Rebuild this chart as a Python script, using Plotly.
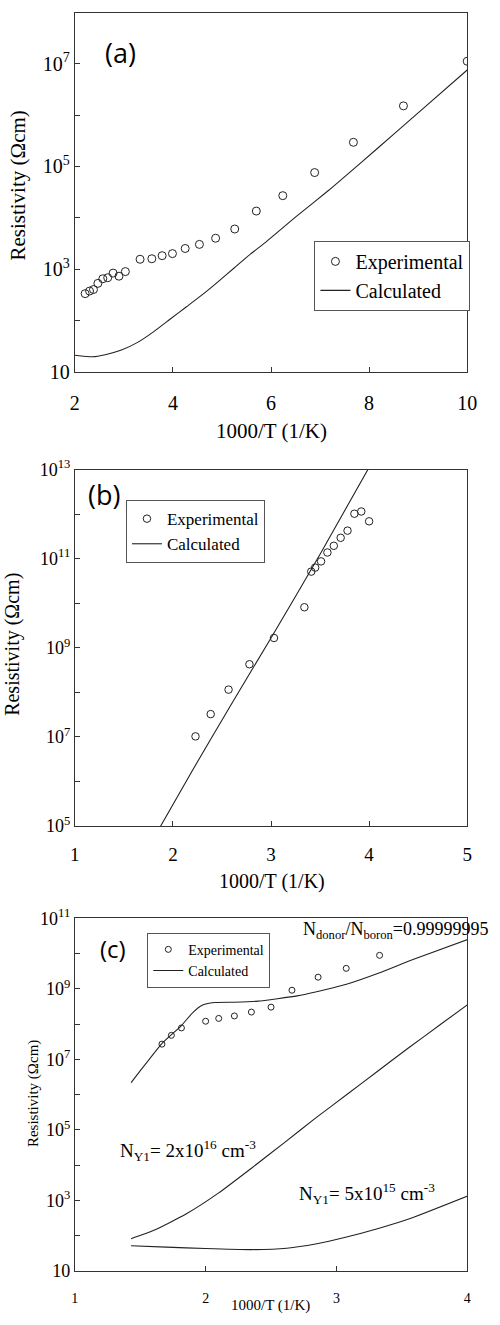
import numpy as np
import plotly.graph_objects as go

# (a) experimental / calculated, y stored as log10(resistivity)
a_exp_x = [2.21, 2.30, 2.38, 2.47, 2.57, 2.67, 2.78, 2.90, 3.03, 3.33, 3.57, 3.78,
           3.99, 4.25, 4.54, 4.87, 5.26, 5.70, 6.24, 6.89, 7.68, 8.70, 10.0]
a_exp_log = [2.52, 2.57, 2.60, 2.72, 2.81, 2.83, 2.92, 2.86, 2.95, 3.19, 3.20, 3.26,
             3.30, 3.40, 3.48, 3.60, 3.78, 4.13, 4.43, 4.88, 5.47, 6.18, 7.05]
a_calc_x = [2.0, 2.36, 2.62, 2.95, 3.28, 3.61, 3.94, 4.27, 4.60, 4.93, 5.26, 5.58, 5.91,
            6.51, 7.17, 7.83, 8.48, 9.14, 10.0]
a_calc_log = [1.32, 1.29, 1.33, 1.42, 1.57, 1.78, 2.02, 2.26, 2.50, 2.76, 3.03, 3.29, 3.54,
              4.02, 4.53, 5.07, 5.61, 6.16, 6.88]

# (b)
b_exp_x = [2.23, 2.385, 2.567, 2.78, 3.03, 3.34, 3.41, 3.45, 3.51, 3.575, 3.64, 3.71,
           3.78, 3.85, 3.92, 4.00]
b_exp_log = [7.01, 7.51, 8.06, 8.63, 9.22, 9.91, 10.71, 10.80, 10.94, 11.14, 11.29, 11.47,
             11.63, 12.01, 12.06, 11.84]
b_calc_x = [1.85, 2.2, 2.6, 3.0, 3.5, 4.01]
b_calc_log = [4.9, 6.25, 7.75, 9.22, 11.1, 13.09]

# (c)
c_exp_x = [1.666, 1.738, 1.815, 2.0, 2.10, 2.22, 2.35, 2.50, 2.66, 2.86, 3.075, 3.33]
c_exp_log = [7.43, 7.68, 7.89, 8.08, 8.16, 8.23, 8.34, 8.48, 8.96, 9.33, 9.58, 9.95]
c_top_x = [1.43, 1.489, 1.664, 1.813, 1.90, 1.97, 2.07, 2.22, 2.40, 2.55, 2.70, 2.84,
           3.07, 3.32, 3.57, 4.01]
c_top_log = [6.34, 6.62, 7.44, 7.95, 8.32, 8.53, 8.61, 8.62, 8.65, 8.72, 8.80, 8.91,
             9.12, 9.44, 9.81, 10.41]
c_mid_x = [1.43, 1.60, 1.85, 2.10, 2.35, 2.60, 2.84, 3.09, 3.30, 3.55, 3.80, 4.01]
c_mid_log = [1.91, 2.14, 2.61, 3.21, 3.91, 4.63, 5.33, 6.03, 6.62, 7.32, 8.0, 8.57]
c_bot_x = [1.43, 1.70, 2.0, 2.35, 2.62, 2.84, 3.07, 3.32, 3.57, 4.01]
c_bot_log = [1.71, 1.67, 1.63, 1.60, 1.64, 1.76, 1.95, 2.20, 2.49, 3.13]


def log_ticks(lo, hi):
    # labelled decades every other power, minor ticks on the rest
    major = [10 ** k for k in range(lo, hi + 1, 2)]
    labels = ['10' if k == 1 else '10<sup>%d</sup>' % k for k in range(lo, hi + 1, 2)]
    minor = [10 ** k for k in range(lo + 1, hi, 2)]
    return dict(tickvals=major, ticktext=labels,
                minor=dict(tickvals=minor, ticks='inside', ticklen=5, tickcolor='#333'))


SERIF = 'Liberation Serif'
SANS = 'Open Sans'
INK = '#222'


def f(size, family=SERIF):
    return dict(size=size, family=family, color='black')


fig = go.Figure()

mk = lambda s: dict(symbol='circle-open', size=s, color=INK, line=dict(width=1, color=INK))
ln = dict(color=INK, width=1.1, shape='spline', smoothing=0.5)

# panel a
fig.add_trace(go.Scatter(x=a_exp_x, y=10 ** np.array(a_exp_log), mode='markers',
                         marker=mk(8), name='Experimental', xaxis='x', yaxis='y', legend='legend'))
fig.add_trace(go.Scatter(x=a_calc_x, y=10 ** np.array(a_calc_log), mode='lines',
                         line=ln, name='Calculated', xaxis='x', yaxis='y', legend='legend'))
# panel b
fig.add_trace(go.Scatter(x=b_exp_x, y=10 ** np.array(b_exp_log), mode='markers',
                         marker=mk(7.5), name='Experimental', xaxis='x2', yaxis='y2', legend='legend2'))
fig.add_trace(go.Scatter(x=b_calc_x, y=10 ** np.array(b_calc_log), mode='lines',
                         line=ln, name='Calculated', xaxis='x2', yaxis='y2', legend='legend2'))
# panel c
fig.add_trace(go.Scatter(x=c_exp_x, y=10 ** np.array(c_exp_log), mode='markers',
                         marker=mk(6), name='Experimental', xaxis='x3', yaxis='y3', legend='legend3'))
fig.add_trace(go.Scatter(x=c_top_x, y=10 ** np.array(c_top_log), mode='lines',
                         line=ln, name='Calculated', xaxis='x3', yaxis='y3', legend='legend3'))
for xs, ys in [(c_mid_x, c_mid_log), (c_bot_x, c_bot_log)]:
    fig.add_trace(go.Scatter(x=xs, y=10 ** np.array(ys), mode='lines', line=ln,
                             showlegend=False, xaxis='x3', yaxis='y3'))

axis = dict(showline=True, linecolor='#333', linewidth=1, mirror=True, ticks='inside',
            ticklen=5, tickcolor='#333', showgrid=False, zeroline=False)
xdom = [0.144, 0.953]
leg = dict(xanchor='left', yanchor='top', bgcolor='white', bordercolor='#555',
           borderwidth=1, tracegroupgap=0, itemwidth=30)

fig.update_layout(
    width=500, height=1325, margin=dict(l=0, r=0, t=0, b=0),
    plot_bgcolor='white', paper_bgcolor='white',
    font=f(16),
    xaxis=dict(axis, domain=xdom, anchor='y', range=[2, 10], tickvals=[2, 4, 6, 8, 10],
               tickfont=f(20), ticklabelstandoff=13),
    yaxis=dict(axis, domain=[0.7238, 0.9996], anchor='x', type='log', range=[1, 8],
               tickfont=f(20), **log_ticks(1, 7)),
    xaxis2=dict(axis, domain=xdom, anchor='y2', range=[1, 5], tickvals=[1, 2, 3, 4, 5],
                tickfont=f(19), ticklabelstandoff=11),
    yaxis2=dict(axis, domain=[0.3749, 0.6485], anchor='x2', type='log', range=[5, 13],
                tickfont=f(18), **log_ticks(5, 13)),
    xaxis3=dict(axis, domain=xdom, anchor='y3', range=[1, 4], tickvals=[1, 2, 3, 4],
                tickfont=f(14), ticklabelstandoff=14),
    yaxis3=dict(axis, domain=[0.0332, 0.3039], anchor='x3', type='log', range=[1, 11],
                tickfont=f(18), **log_ticks(1, 11)),
    legend=dict(leg, x=0.638, y=0.8242, font=f(20)),
    legend2=dict(leg, x=0.2494, y=0.6251, font=f(17)),
    legend3=dict(leg, x=0.2934, y=0.2928, font=f(14)),
)

notes = [
    # axis titles
    dict(x=0.026, y=0.8664, text='Resistivity (Ωcm)', textangle=-90, font=f(21)),
    dict(x=0.549, y=0.6785, text='1000/T (1/K)', font=f(21)),
    dict(x=0.0167, y=0.514, text='Resistivity (Ωcm)', textangle=-90, font=f(20)),
    dict(x=0.55, y=0.332, text='1000/T (1/K)', font=f(20)),
    dict(x=0.06, y=0.169, text='Resistivity (Ωcm)', textangle=-90, font=f(15)),
    dict(x=0.548, y=0.0063, text='1000/T (1/K)', font=f(15)),
    # panel labels
    dict(x=0.238, y=0.969, text='(a)', font=f(27, SANS)),
    dict(x=0.204, y=0.6294, text='(b)', font=f(27, SANS)),
    dict(x=0.222, y=0.2808, text='(c)', font=f(24, SANS)),
    # curve labels in c
    dict(x=0.999, y=0.2943, xanchor='right', text='N<sub>donor</sub>/N<sub>boron</sub>=0.99999995',
         font=f(18)),
    dict(x=0.232, y=0.1253, xanchor='left', text='N<sub>Y1</sub>= 2x10<sup>16</sup> cm<sup>-3</sup>',
         font=f(19)),
    dict(x=0.603, y=0.0928, xanchor='left', text='N<sub>Y1</sub>= 5x10<sup>15</sup> cm<sup>-3</sup>',
         font=f(19)),
]
for n in notes:
    n.setdefault('xanchor', 'center')
    fig.add_annotation(xref='paper', yref='paper', showarrow=False, yanchor='middle', **n)

# the page body has a default 8px margin; drop it so the figure sits at the corner
fig.write_html('out.html', config={'displayModeBar': False},
               post_script="document.body.style.margin='0';")
